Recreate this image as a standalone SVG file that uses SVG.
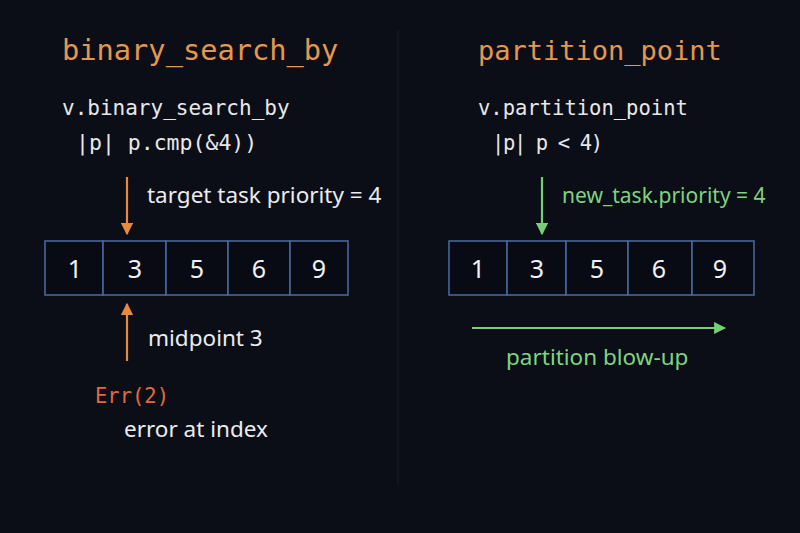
<svg xmlns="http://www.w3.org/2000/svg" width="800" height="533" viewBox="0 0 800 533">
<style>
.title{font-family:"DejaVu Sans Mono","Liberation Mono",monospace;font-size:27px;fill:#e3984f}
.code{font-family:"DejaVu Sans Mono","Liberation Mono",monospace;font-size:20.5px;fill:#e8e8ea}
.lbl{font-family:"Noto Sans","Open Sans",sans-serif;font-size:22.5px;fill:#ececee}
.grn{fill:#7fd37f}
.num{font-family:"Noto Sans","Open Sans",sans-serif;font-size:25px;fill:#f2f2f4;text-anchor:middle}
.cell{fill:#080b14;stroke:#46679a;stroke-width:1.6}
.oa{stroke:#e8893b;stroke-width:2.2;fill:none}
.ga{stroke:#76cf76;stroke-width:2.2;fill:none}
</style>
<defs>
<marker id="ho" viewBox="0 0 10 10" refX="9" refY="5" markerWidth="5.5" markerHeight="5.5" orient="auto" markerUnits="strokeWidth"><path d="M0,0 L10,5 L0,10 z" fill="#e8893b"/></marker>
<marker id="hg" viewBox="0 0 10 10" refX="9" refY="5" markerWidth="5.5" markerHeight="5.5" orient="auto" markerUnits="strokeWidth"><path d="M0,0 L10,5 L0,10 z" fill="#76cf76"/></marker>
</defs>
<rect width="800" height="533" fill="#0b0e17"/>
<line x1="398" y1="30" x2="398" y2="485" stroke="#141824" stroke-width="1.5"/>

<g id="left-title"><text class="title" x="62" y="60" style="font-size:28.7px">binary_search_by</text></g>
<g id="left-code"><text class="code" x="62" y="115" style="font-size:21px">v.binary_search_by</text><text class="code" x="76" y="150" style="font-size:21.5px">|p| p.cmp(&amp;4))</text></g>
<g id="left-target"><text class="lbl" x="147" y="203">target task priority = 4</text></g>
<g id="left-array">
<rect class="cell" x="45" y="241" width="58" height="54"/>
<rect class="cell" x="103" y="241" width="63" height="54"/>
<rect class="cell" x="166" y="241" width="62" height="54"/>
<rect class="cell" x="228" y="241" width="62" height="54"/>
<rect class="cell" x="290" y="241" width="58" height="54"/>
<text class="num" x="75" y="278">1</text><text class="num" x="135" y="278">3</text><text class="num" x="197" y="278">5</text><text class="num" x="259" y="278">6</text><text class="num" x="319" y="278">9</text>
</g>
<g id="left-mid"><text class="lbl" x="148" y="346">midpoint 3</text></g>
<g id="left-err"><text class="code" x="95" y="403" style="fill:#e2693f">Err(2)</text><text class="lbl" x="124" y="437">error at index</text></g>

<g id="right-title"><text class="title" x="478" y="60">partition_point</text></g>
<g id="right-code"><text class="code" x="478" y="115">v.partition_point</text><text class="code" x="492" y="150" textLength="111" lengthAdjust="spacing">|p| p &lt; 4)</text></g>
<g id="right-target"><text class="lbl grn" x="562" y="203" style="font-size:21px">new_task.priority = 4</text></g>
<g id="right-array">
<rect class="cell" x="449" y="241" width="58" height="54"/>
<rect class="cell" x="507" y="241" width="59" height="54"/>
<rect class="cell" x="566" y="241" width="62" height="54"/>
<rect class="cell" x="628" y="241" width="64" height="54"/>
<rect class="cell" x="692" y="241" width="62" height="54"/>
<text class="num" x="478" y="278">1</text><text class="num" x="537" y="278">3</text><text class="num" x="597" y="278">5</text><text class="num" x="659" y="278">6</text><text class="num" x="720" y="278">9</text>
</g>
<g id="right-blowup"><text class="lbl grn" x="506" y="365">partition blow-up</text></g>

<g id="connectors">
<line class="oa" x1="127" y1="177" x2="127" y2="234" marker-end="url(#ho)"/>
<line class="oa" x1="127" y1="361" x2="127" y2="304" marker-end="url(#ho)"/>
<line class="ga" x1="542" y1="177" x2="542" y2="234" marker-end="url(#hg)"/>
<line class="ga" x1="472" y1="328" x2="725" y2="328" marker-end="url(#hg)"/>
</g>
</svg>
